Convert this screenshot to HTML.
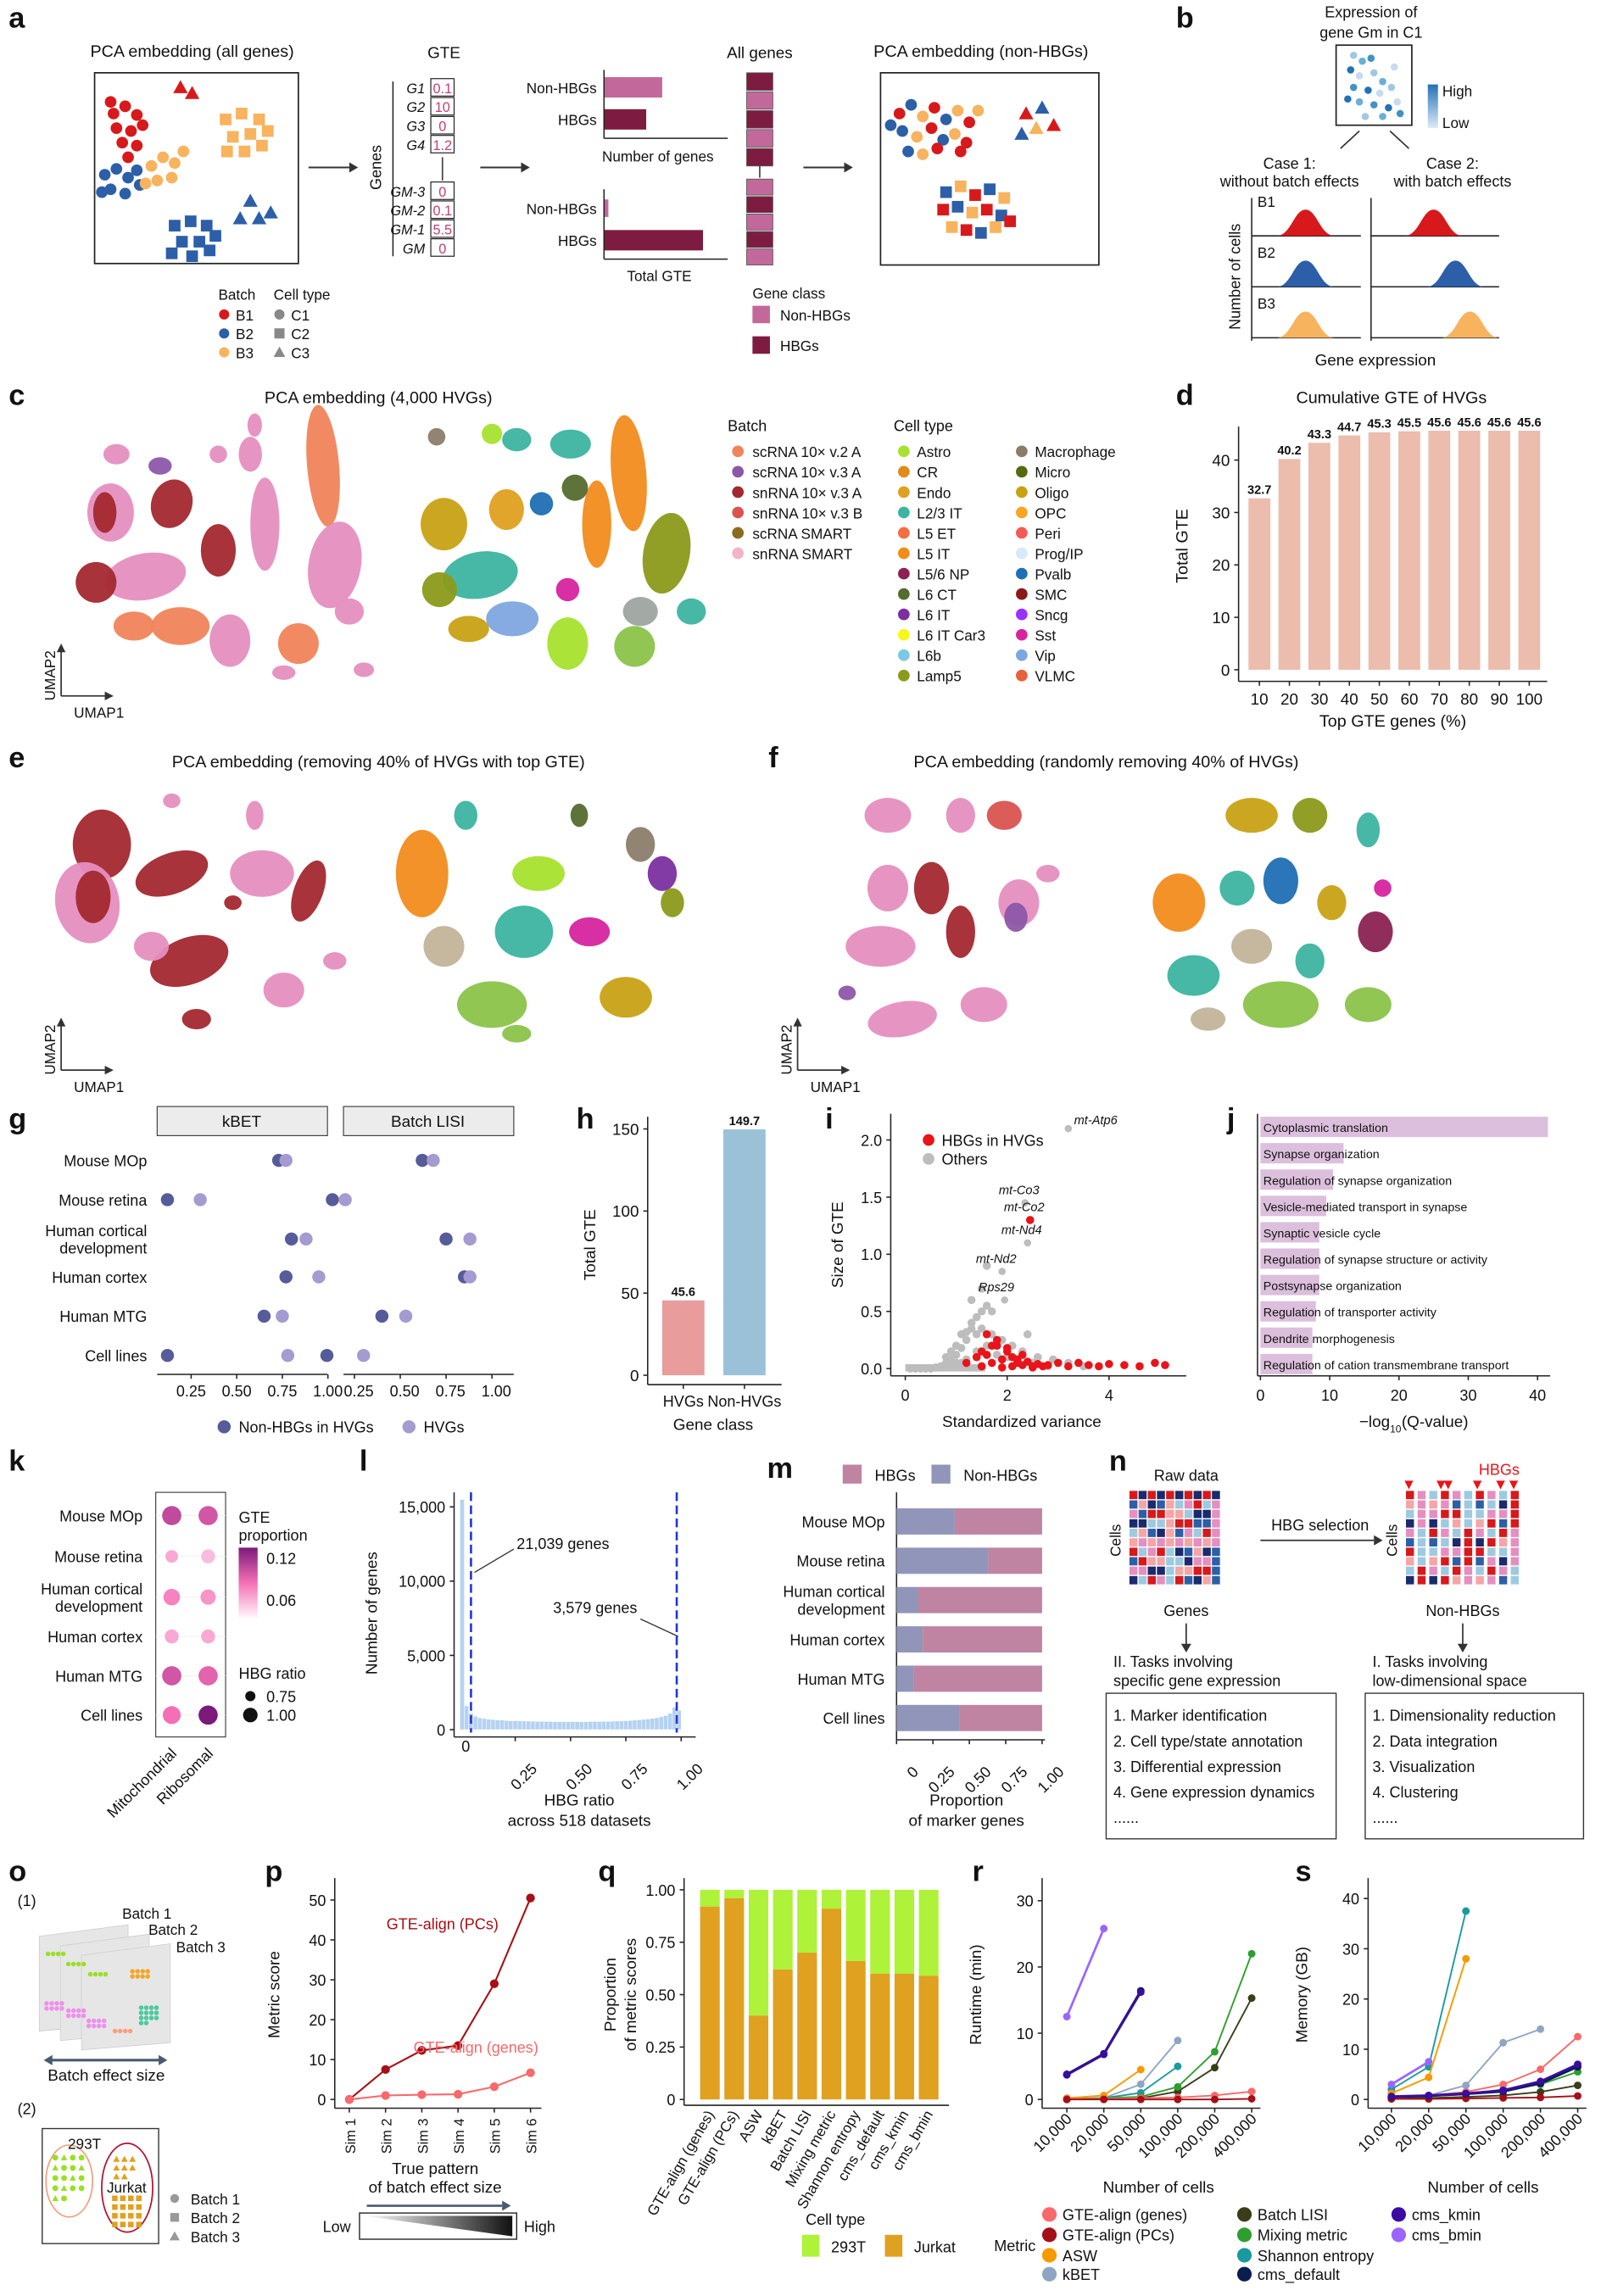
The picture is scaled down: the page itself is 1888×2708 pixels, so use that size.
<!DOCTYPE html>
<html><head><meta charset="utf-8"><style>
html,body{margin:0;padding:0;background:#fff}
svg{display:block;font-family:"Liberation Sans",Arial,sans-serif}
</style></head><body>
<svg id="fig" xmlns="http://www.w3.org/2000/svg" width="1888" height="2708" viewBox="0 0 1100 1577" preserveAspectRatio="none"></svg>
<script>
// ---- chart data ----
const dCats=['10','20','30','40','50','60','70','80','90','100'];
const dVals=[32.7,40.2,43.3,44.7,45.3,45.5,45.6,45.6,45.6,45.6];
const dTicks=[0,10,20,30,40];
const gRows=['Mouse MOp','Mouse retina','Human cortical|development','Human cortex','Human MTG','Cell lines'];
const gKbetNon=[0.73,0.12,0.80,0.77,0.65,0.12];
const gKbetHvg=[0.77,0.30,0.88,0.95,0.75,0.78];
const gLisiNon=[0.62,0.13,0.75,0.85,0.40,0.10];
const gLisiHvg=[0.68,0.20,0.88,0.88,0.53,0.30];
const gTicks=[0.25,0.50,0.75,1.00];
const hCats=['HVGs','Non-HVGs'];
const hVals=[45.6,149.7];
const hTicks=[0,50,100,150];
const iGrayX=[0.1,0.2,0.3,0.4,0.5,0.6,0.7,0.8,0.9,1.0,1.1,1.2,1.3,1.4,1.5,1.6,0.8,0.9,1.0,1.1,1.2,1.3,1.4,1.5,1.7,1.9,2.1,2.3,2.6,2.9,3.2,1.0,1.2,1.4,1.6,1.8,2.0,2.2,2.5,1.3,1.5,1.7,0.9,1.1,1.6,2.8,3.5,2.4];
const iGrayY=[0,0,0,0,0,0.01,0.02,0.05,0.08,0.12,0.18,0.25,0.35,0.45,0.5,0.55,0.1,0.15,0.2,0.3,0.32,0.4,0.3,0.35,0.3,0.25,0.2,0.15,0.1,0.08,0.05,0.05,0.08,0.15,0.2,0.12,0.1,0.06,0.05,0.6,0.7,0.5,0.02,0.05,0.9,0.02,0.02,0.3];
const iRedX=[1.2,1.4,1.5,1.6,1.7,1.8,1.9,2.0,2.1,2.2,2.3,2.4,2.5,2.6,2.8,3.0,3.2,3.4,3.6,3.8,4.0,4.3,4.6,4.9,5.1,1.5,1.7,1.9,2.1,2.3,2.5,2.7,1.6,1.8,2.0,2.2,2.45];
const iRedY=[0.05,0.1,0.15,0.12,0.2,0.25,0.08,0.18,0.1,0.05,0.12,0.06,0.02,0.04,0.03,0.05,0.02,0.05,0.03,0.02,0.04,0.03,0.02,0.05,0.03,0.02,0.05,0.01,0.02,0.03,0.01,0.02,0.3,0.2,0.15,0.08,1.3];
const iLabels=['mt-Atp6','mt-Co3','mt-Co2','mt-Nd4','mt-Nd2','Rps29'];
const iLabX=[3.2,2.35,2.45,2.4,1.9,1.95];
const iLabY=[2.1,1.45,1.3,1.1,0.85,0.6];
const iXTicks=[0,2,4];
const iYTicks=[0,0.5,1.0,1.5,2.0];
const jTerms=['Cytoplasmic translation','Synapse organization','Regulation of synapse organization','Vesicle-mediated transport in synapse','Synaptic vesicle cycle','Regulation of synapse structure or activity','Postsynapse organization','Regulation of transporter activity','Dendrite morphogenesis','Regulation of cation transmembrane transport'];
const jVals=[41.5,12,10.5,9.5,8.5,8.5,8.5,8,7.5,7.5];
const jTicks=[0,10,20,30,40];
const kRows=['Mouse MOp','Mouse retina','Human cortical|development','Human cortex','Human MTG','Cell lines'];
const kMitoProp=[0.10,0.04,0.06,0.04,0.09,0.07];
const kRiboProp=[0.09,0.03,0.05,0.04,0.08,0.14];
const kMitoRatio=[1.0,0.75,0.9,0.8,1.0,0.95];
const kRiboRatio=[1.0,0.8,0.85,0.8,1.0,1.0];
const lCounts=[15500,1600,1100,900,800,750,700,680,650,640,620,600,600,590,580,570,570,560,560,550,550,540,540,540,540,540,540,540,540,550,550,550,560,560,570,580,590,600,620,640,660,690,720,760,800,870,950,1100,1500,1300];
const lYTicks=[0,5000,10000,15000];
const lYLabels=['0','5,000','10,000','15,000'];
const lXTicks=[0.25,0.50,0.75,1.00];
const mRows=['Mouse MOp','Mouse retina','Human cortical|development','Human cortex','Human MTG','Cell lines'];
const mNon=[0.40,0.63,0.15,0.18,0.12,0.43];
const mTicks=[0,0.25,0.50,0.75,1.00];
const pCats=['Sim 1','Sim 2','Sim 3','Sim 4','Sim 5','Sim 6'];
const pPCs=[0,7.5,12.3,13.5,29,50.5];
const pGenes=[0,1,1.2,1.3,3.2,6.7];
const pTicks=[0,10,20,30,40,50];
const qCats=['GTE-align (genes)','GTE-align (PCs)','ASW','kBET','Batch LISI','Mixing metric','Shannon entropy','cms_default','cms_kmin','cms_bmin'];
const qJurkat=[0.92,0.96,0.40,0.62,0.70,0.91,0.66,0.60,0.60,0.59];
const qTicks=[0,0.25,0.50,0.75,1.00];
const cellCats=['10,000','20,000','50,000','100,000','200,000','400,000'];
const metricNames=['GTE-align (genes)','GTE-align (PCs)','ASW','kBET','Batch LISI','Mixing metric','Shannon entropy','cms_default','cms_kmin','cms_bmin'];
const metricColors=['#f8696b','#a50f15','#f59a00','#8ea6c2','#3b3d1a','#2e9e2e','#1a9a9e','#0b1d4d','#3a0ca3','#9966ff'];
const rGenes=[0.1,0.1,0.2,0.3,0.6,1.2];
const rPCs=[0,0,0,0,0,0.1];
const rASW=[0.2,0.6,4.5];
const rKBET=[0.1,0.2,2.3,8.9];
const rLISI=[0,0.1,0.2,1.2,4.8,15.3];
const rMix=[0.1,0.2,0.4,1.9,7.2,22];
const rShan=[0.1,0.2,1.0,5.0];
const rDef=[3.8,6.9,16.4];
const rKmin=[3.7,6.8,16.2];
const rBmin=[12.5,25.8];
const rTicks=[0,10,20,30];
const sGenes=[0.3,0.8,1.5,3,6,12.5];
const sPCs=[0.1,0.1,0.2,0.3,0.4,0.7];
const sASW=[1.2,4.4,28];
const sKBET=[0.5,0.8,2.8,11.3,14];
const sLISI=[0.2,0.3,0.5,0.8,1.5,2.8];
const sMix=[0.5,0.7,1.0,2.0,3.0,5.5];
const sShan=[2,6.5,37.5];
const sDef=[0.5,0.7,1.1,1.6,3.2,6.5];
const sKmin=[0.6,0.8,1.2,1.8,3.6,7.0];
const sBmin=[3,7.5];
const sTicks=[0,10,20,30,40];

const NS='http://www.w3.org/2000/svg';
const svg=document.getElementById('fig');
function el(tag,attrs,name,parent){
  const e=document.createElementNS(NS,tag);
  for(const k in attrs) e.setAttribute(k,attrs[k]);
  
  
  (parent||svg).appendChild(e);
  return e;
}
function T(x,y,s,size,anchor,name,extra){
  const a=Object.assign({x:x,y:y,'font-size':size||10.5,'text-anchor':anchor||'start',fill:'#111'},extra||{});
  const t=el('text',a,name);
  t.textContent=s;
  return t;
}
function L(x1,y1,x2,y2,name,st,w){return el('line',{x1,y1,x2,y2,stroke:st||'#222','stroke-width':w||0.9},name);}
function R(x,y,w,h,f,name,extra){return el('rect',Object.assign({x,y,width:w,height:h,fill:f},extra||{}),name);}
function C(x,y,r,f,name){return el('circle',{cx:x,cy:y,r,fill:f},name);}
function P(d,name,extra){return el('path',Object.assign({d},extra||{}),name);}
function letter(x,y,s){T(x,y,s,20,'start','panel-label-'+s,{'font-weight':'bold'});}
function multiline(x,y,s,size,anchor,name,dy){const parts=s.split('|');const off=parts.length>1?-(dy||12)/2:0;parts.forEach((p,i)=>T(x,y+off+i*(dy||12),p,size,anchor,name));}
function arrowHead(x,y,dir,col,name){
  if(dir==='r') P(`M${x},${y} l-6,-3.5 l0,7 z`,name,{fill:col||'#333'});
  else P(`M${x},${y} l-3.5,-6 l7,0 z`,name,{fill:col||'#333'});
}
function ellipse(cx,cy,rx,ry,rot,f,name,op){return el('ellipse',{cx,cy,rx,ry,fill:f,transform:`rotate(${rot} ${cx} ${cy})`,opacity:op||1},name);}
function tri(x,y,s,f,name){P(`M${x},${y-s} L${x+s},${y+s*0.8} L${x-s},${y+s*0.8} Z`,name,{fill:f});}

// ======== Panel a ========
letter(6,19,'a');
T(132,39,'PCA embedding (all genes)',11.5,'middle','pca-all-title');
R(65,50,140,131,'none','pca-all-box',{stroke:'#222','stroke-width':1});
const red='#d7191c',blue='#2c5fa8',org='#f7b35e';
[[78,78],[86,73],[94,79],[80,88],[90,90],[98,86],[84,98],[94,100],[76,70],[88,108]].forEach(p=>C(p[0],p[1],4,red,'pca-point-b1-c1'));
[[72,120],[80,116],[88,122],[76,130],[86,133],[94,117],[70,132],[96,127]].forEach(p=>C(p[0],p[1],4,blue,'pca-point-b2-c1'));
[[104,114],[112,108],[120,112],[108,124],[118,122],[126,104],[100,126]].forEach(p=>C(p[0],p[1],4,org,'pca-point-b3-c1'));
[[155,82],[166,78],[178,82],[160,94],[172,92],[184,90],[156,104],[168,104],[180,100]].forEach(p=>R(p[0]-4,p[1]-4,8,8,org,'pca-point-b3-c2'));
[[120,155],[131,152],[142,155],[125,166],[137,166],[148,162],[118,174],[132,176],[144,172]].forEach(p=>R(p[0]-4,p[1]-4,8,8,blue,'pca-point-b2-c2'));
[[172,138],[165,150],[178,150],[186,146]].forEach(p=>tri(p[0],p[1],5,blue,'pca-point-b2-c3'));
[[124,60],[132,64]].forEach(p=>tri(p[0],p[1],5,red,'pca-point-b1-c3'));
T(150,206,'Batch',10,'start','batch-legend-title');T(188,206,'Cell type',10,'start','celltype-legend-title');
[['B1',red],['B2',blue],['B3',org]].forEach((b,i)=>{C(154,216+i*13,3.5,b[1],'legend-dot-'+b[0]);T(162,220+i*13,b[0],10,'start','legend-text-'+b[0]);});
C(192,216,3.5,'#888','legend-c1');R(188.5,225.5,7,7,'#888','legend-c2');tri(192,242,4,'#888','legend-c3');
['C1','C2','C3'].forEach((c,i)=>T(200,220+i*13,c,10,'start','legend-text-'+c));
L(212,115,240,115,'arrow-a1','#333',1.2);arrowHead(246,115,'r','#333','arrow-a1-head');
T(305,40,'GTE',11,'middle','gte-title');
T(262,115,'Genes',10.5,'middle','genes-axis-label',{transform:'rotate(-90 262 115)'});
L(270,56,270,176,'genes-bracket');
const gNames=['G1','G2','G3','G4','GM-3','GM-2','GM-1','GM'];
const gV=['0.1','10','0','1.2','0','0.1','5.5','0'];
const gY=[60,73,86,99,131,144,157,170];
gNames.forEach((g,i)=>{T(292,gY[i]+4,g,9.5,'end','gene-name-'+g,{'font-style':'italic'});R(296,gY[i]-6,16,12,'#fff','gte-cell-'+g,{stroke:'#222','stroke-width':0.7});T(304,gY[i]+4,gV[i],9.5,'middle','gte-value-'+g,{fill:'#c2407a'});});
L(304,108,304,124,'gene-ellipsis','#444',1);
L(330,115,358,115,'arrow-a2','#333',1.2);arrowHead(364,115,'r','#333','arrow-a2-head');
const nh='#c3689b',hb='#7d1c40';
T(410,64,'Non-HBGs',10,'end','nonhbg-label-1');R(415,53,40,14,nh,'bar-nonhbg-count');
T(410,86,'HBGs',10,'end','hbg-label-1');R(415,75,29,14,hb,'bar-hbg-count');
L(415,48,415,95,'count-y-axis');L(415,95,500,95,'count-x-axis');T(452,111,'Number of genes',10,'middle','count-x-title');
T(410,147,'Non-HBGs',10,'end','nonhbg-label-2');R(415,137,3,12,nh,'bar-nonhbg-gte');
T(410,169,'HBGs',10,'end','hbg-label-2');R(415,158,68,14,hb,'bar-hbg-gte');
L(415,130,415,178,'gte-y-axis');L(415,178,500,178,'gte-x-axis');T(453,193,'Total GTE',10,'middle','gte-x-title');
T(522,40,'All genes',11,'middle','allgenes-title');
const agC=[hb,nh,hb,nh,hb,nh,hb,nh,hb,nh];
agC.forEach((c,i)=>{const y=i<5?50+i*13:123+(i-5)*12;R(513,y,18,i<5?12:11,c,'all-genes-cell',{stroke:'#555','stroke-width':0.5});});
L(522,114,522,122,'allgenes-ellipsis','#444',1);
T(517,205,'Gene class',10,'start','geneclass-legend-title');
R(517,210,12,12,nh,'legend-nonhbg-box');T(536,220,'Non-HBGs',10,'start','legend-nonhbg-text');
R(517,231,12,12,hb,'legend-hbg-box');T(536,241,'HBGs',10,'start','legend-hbg-text');
L(552,115,580,115,'arrow-a3','#333',1.2);arrowHead(586,115,'r','#333','arrow-a3-head');
T(674,39,'PCA embedding (non-HBGs)',11.5,'middle','pca-nonhbg-title');
R(605,50,150,132,'none','pca-nonhbg-box',{stroke:'#222','stroke-width':1});
const mix=[red,blue,org];
[[618,78],[626,72],[634,80],[642,74],[650,82],[658,76],[666,84],[620,90],[630,94],[640,88],[648,96],[656,92],[664,98],[624,104],[634,106],[644,102],[612,86],[672,76],[660,104]].forEach((p,i)=>C(p[0],p[1],4,mix[i%3],'pca2-point-c1'));
[[650,132],[660,128],[670,134],[680,130],[690,136],[648,144],[658,142],[668,146],[678,144],[688,148],[654,156],[664,158],[674,160],[684,156],[694,152]].forEach((p,i)=>R(p[0]-4,p[1]-4,8,8,mix[(i+1)%3],'pca2-point-c2'));
[[705,78],[716,74],[712,88],[724,86],[702,92]].forEach((p,i)=>tri(p[0],p[1],5,mix[i%3],'pca2-point-c3'));

// ======== Panel b ========
letter(808,19,'b');
T(942,12,'Expression of',10.5,'middle','expr-title-1');
T(942,26,'gene Gm in C1',10.5,'middle','expr-title-2');
R(918,31,52,55,'#fff','expr-box',{stroke:'#222','stroke-width':1});
const bl=['#9ecae1','#6baed6','#4292c6','#2171b5','#c6dbef'];
[[930,38],[936,42],[942,40],[928,48],[934,52],[944,50],[950,56],[930,60],[940,62],[948,64],[956,60],[934,70],[944,72],[954,74],[960,70],[938,80],[950,80],[962,78],[926,68],[958,46]].forEach((p,i)=>C(p[0],p[1],2.5,bl[i%5],'expr-dot'));
const gd=el('defs',{}, 'defs');
const lg=el('linearGradient',{id:'blueGrad',x1:0,y1:0,x2:0,y2:1},'blue-gradient',gd);
el('stop',{offset:'0','stop-color':'#2171b5'},'stop',lg);el('stop',{offset:'1','stop-color':'#deebf7'},'stop',lg);
R(981,58,7,30,'url(#blueGrad)','expr-legend-bar');
T(991,66,'High',10,'start','expr-high');T(991,88,'Low',10,'start','expr-low');
L(934,90,921,102,'arrow-b1','#333',1);L(955,90,968,102,'arrow-b2','#333',1);
T(886,116,'Case 1:',10.5,'middle','case1');T(886,128,'without batch effects',10.5,'middle','case1-sub');
T(998,116,'Case 2:',10.5,'middle','case2');T(998,128,'with batch effects',10.5,'middle','case2-sub');
T(852,190,'Number of cells',10.5,'middle','b-yaxis-title',{transform:'rotate(-90 852 190)'});
L(860,136,860,234,'b-yaxis-1');L(942,136,942,234,'b-yaxis-2');
const bcol=['#d7191c','#2c5fa8','#f7b35e'];
['B1','B2','B3'].forEach((b,i)=>{
  const base=162+i*35;
  T(864,base-20,b,10,'start','batch-label-'+b);
  L(860,base,935,base,'b-base-1');L(942,base,1030,base,'b-base-2');
  const c1=897, c2=[985,1000,1010][i];
  P(`M${c1-20},${base} C${c1-10},${base} ${c1-8},${base-18} ${c1},${base-18} C${c1+8},${base-18} ${c1+10},${base} ${c1+20},${base} Z`,'density-case1-'+b,{fill:bcol[i]});
  P(`M${c2-20},${base} C${c2-10},${base} ${c2-8},${base-18} ${c2},${base-18} C${c2+8},${base-18} ${c2+10},${base} ${c2+20},${base} Z`,'density-case2-'+b,{fill:bcol[i]});
});
T(945,251,'Gene expression',11,'middle','b-xaxis-title');

// ======== UMAP helper ========
function umap(blobs,name){blobs.forEach(b=>ellipse(b[0],b[1],b[2],b[3],b[4],b[5],name+'-cluster',0.95));}
function umapAxes(x,y,name){L(x,y,x,y-32,name+'-umap2-axis','#333',1);L(x,y,x+32,y,name+'-umap1-axis','#333',1);
  P(`M${x},${y-36} l-3,6 l6,0 z`,name+'-umap2-head',{fill:'#333'});P(`M${x+36},${y} l-6,-3 l0,6 z`,name+'-umap1-head',{fill:'#333'});
  T(x-4,y-14,'UMAP2',10,'middle',name+'-umap2-label',{transform:`rotate(-90 ${x-4} ${y-14})`});T(x+26,y+15,'UMAP1',10,'middle',name+'-umap1-label');}
const PK='#e58fc0',OR='#f0845a',DR='#a3282f',PU='#8c57a8',LP='#f3b3c9',OL='#8c6d1f';
// ======== Panel c ========
letter(6,278,'c');
T(260,277,'PCA embedding (4,000 HVGs)',11.5,'middle','c-title');
umap([[222,320,11,42,-5,OR],[230,388,18,30,10,PK],[182,360,10,32,0,PK],[172,312,8,12,0,PK],[76,352,16,20,0,PK],[72,352,8,14,0,DR],[118,346,14,17,20,DR],[150,378,12,18,0,DR],[100,396,28,16,-10,PK],[66,400,14,14,0,DR],[124,430,20,13,0,OR],[92,430,14,10,0,OR],[158,440,14,18,0,PK],[205,442,14,14,0,OR],[240,420,10,9,0,PK],[80,312,9,7,0,PK],[150,312,6,6,0,PK],[110,320,8,6,0,PU],[195,462,8,5,0,PK],[250,460,7,5,0,PK],[175,292,5,8,0,PK]],'c-batch');
umapAxes(42,478,'c');
umap([[300,300,6,6,0,'#8b7d6b'],[338,298,7,7,0,'#a6e22e'],[355,302,10,8,0,'#3cb4a0'],[392,305,14,10,0,'#3cb4a0'],[432,325,12,40,-5,'#f28c1c'],[458,380,16,28,10,'#8b9a1b'],[440,420,12,10,0,'#9ea5a0'],[410,360,10,30,0,'#f28c1c'],[395,335,9,9,0,'#556b2f'],[372,346,8,8,0,'#1f6fb4'],[305,360,16,18,0,'#c8a215'],[348,350,12,14,0,'#e0a020'],[330,395,26,16,-10,'#3cb4a0'],[302,405,12,12,0,'#8b9a1b'],[352,425,18,12,0,'#7ea6e0'],[322,432,14,9,0,'#c8a215'],[390,442,14,18,0,'#a6e22e'],[436,444,14,14,0,'#8bc34a'],[475,420,10,9,0,'#3cb4a0'],[390,405,8,8,0,'#d6249f']],'c-celltype');
T(500,296,'Batch',10.5,'start','c-batch-legend-title');
const cBatch=[['scRNA 10× v.2 A',OR],['scRNA 10× v.3 A',PU],['snRNA 10× v.3 A',DR],['snRNA 10× v.3 B','#d9534f'],['scRNA SMART',OL],['snRNA SMART',LP]];
cBatch.forEach((b,i)=>{C(507,310+i*14,4,b[1],'c-batch-legend-dot');T(517,314+i*14,b[0],10,'start','c-batch-legend-text');});
T(614,296,'Cell type',10.5,'start','c-celltype-legend-title');
const ct1=[['Astro','#a6e22e'],['CR','#e08b1a'],['Endo','#e0a020'],['L2/3 IT','#3cb4a0'],['L5 ET','#f46d43'],['L5 IT','#f28c1c'],['L5/6 NP','#8b2252'],['L6 CT','#556b2f'],['L6 IT','#7b2fa0'],['L6 IT Car3','#f7f71a'],['L6b','#7ec8e3'],['Lamp5','#8b9a1b']];
const ct2=[['Macrophage','#8b7d6b'],['Micro','#556b0f'],['Oligo','#c8a215'],['OPC','#f5a623'],['Peri','#f25c54'],['Prog/IP','#d6eaf8'],['Pvalb','#1f6fb4'],['SMC','#8b1a1a'],['Sncg','#9b30ff'],['Sst','#d6249f'],['Vip','#7ea6e0'],['VLMC','#e8603c']];
ct1.forEach((b,i)=>{C(621,310+i*14,4,b[1],'c-celltype-legend-dot');T(630,314+i*14,b[0],10,'start','c-celltype-legend-text');});
ct2.forEach((b,i)=>{C(702,310+i*14,4,b[1],'c-celltype-legend-dot');T(711,314+i*14,b[0],10,'start','c-celltype-legend-text');});

// ======== Panel d ========
letter(808,278,'d');
T(956,277,'Cumulative GTE of HVGs',11.5,'middle','d-title');
const dX0=851,dX1=1063,dY0=460,dPer=3.6;
function dy(v){return dY0-v*dPer;}
L(dX0,293,dX0,468,'d-y-axis');L(dX0,468,dX1,468,'d-x-axis');
dTicks.forEach(t=>{L(dX0-3,dy(t),dX0,dy(t),'d-y-tick');T(dX0-6,dy(t)+4,String(t),11,'end','d-y-tick-label');});
const dStep=(dX1-dX0-6)/dCats.length;
dCats.forEach((c,i)=>{const cx=dX0+4+dStep*(i+0.5);R(cx-7.5,dy(dVals[i]),15,dy(0)-dy(dVals[i]),'#ecbcad','d-bar-'+c);
  T(cx,dy(dVals[i])-3,dVals[i].toFixed(1),8.5,'middle','d-bar-value',{'font-weight':'bold'});
  L(cx,468,cx,471,'d-x-tick');T(cx,484,c,11,'middle','d-x-tick-label');});
T(957,499,'Top GTE genes (%)',11.5,'middle','d-x-title');
T(816,375,'Total GTE',11.5,'middle','d-y-title',{transform:'rotate(-90 816 375)'});

// ======== Panel e & f ========
letter(6,527,'e');
T(260,527,'PCA embedding (removing 40% of HVGs with top GTE)',11.5,'middle','e-title');
umap([[70,580,20,24,0,DR],[60,620,22,28,-10,PK],[64,616,12,18,0,DR],[118,600,26,14,-20,DR],[175,560,6,10,0,PK],[180,600,22,16,0,PK],[130,660,28,16,-20,DR],[104,650,12,10,0,PK],[212,612,10,22,20,DR],[195,680,14,12,0,PK],[135,700,10,7,0,DR],[230,660,8,6,0,PK],[118,550,6,5,0,PK],[160,620,6,5,0,DR]],'e-batch');
umapAxes(42,735,'e');
umap([[290,600,18,30,0,'#f28c1c'],[305,650,14,14,0,'#c2b49a'],[338,690,24,16,0,'#8bc34a'],[360,640,20,18,0,'#3cb4a0'],[370,600,18,12,0,'#a6e22e'],[405,640,14,10,0,'#d6249f'],[440,580,10,12,0,'#8b7d6b'],[455,600,10,12,0,'#7b2fa0'],[462,620,8,10,0,'#8b9a1b'],[430,685,18,14,0,'#c8a215'],[398,560,6,8,0,'#556b2f'],[355,710,10,6,0,'#8bc34a'],[320,560,8,10,0,'#3cb4a0']],'e-celltype');
letter(528,527,'f');
T(760,527,'PCA embedding (randomly removing 40% of HVGs)',11.5,'middle','f-title');
umap([[610,560,16,12,0,PK],[660,560,10,12,0,PK],[690,560,12,10,0,'#d9534f'],[610,610,14,16,0,PK],[640,610,12,18,0,DR],[605,650,24,14,0,PK],[660,640,10,18,0,DR],[700,620,14,16,0,PK],[698,630,8,10,0,PU],[620,700,24,12,-10,PK],[676,690,16,12,0,PK],[720,600,8,6,0,PK],[582,682,6,5,0,PU]],'f-batch');
umapAxes(548,735,'f');
umap([[860,560,18,12,0,'#c8a215'],[900,560,12,12,0,'#8b9a1b'],[940,570,8,12,0,'#3cb4a0'],[810,620,18,20,0,'#f28c1c'],[850,610,12,12,0,'#3cb4a0'],[880,605,12,16,0,'#1f6fb4'],[915,620,10,12,0,'#c8a215'],[860,650,14,12,0,'#c2b49a'],[900,660,10,12,0,'#3cb4a0'],[945,640,12,14,0,'#8b2252'],[820,670,18,14,0,'#3cb4a0'],[880,690,26,16,0,'#8bc34a'],[940,690,16,12,0,'#8bc34a'],[830,700,12,8,0,'#c2b49a'],[950,610,6,6,0,'#d6249f']],'f-celltype');

// ======== Panel g ========
letter(6,775,'g');
R(108,760,117,20,'#ececec','g-strip-kbet',{stroke:'#444','stroke-width':0.7});T(166,774,'kBET',11,'middle','g-strip-kbet-label');
R(236,760,117,20,'#ececec','g-strip-lisi',{stroke:'#444','stroke-width':0.7});T(294,774,'Batch LISI',11,'middle','g-strip-lisi-label');
const gRowY=[797,824,851,877,904,931];
function gxK(v){return 100+v*125.3;} function gxL(v){return 212+v*126;}
gRows.forEach((r,i)=>{multiline(101,gRowY[i]+4,r,10.5,'end','g-row-label',12);
  C(gxK(gKbetNon[i]),gRowY[i],4.5,'#565b99','g-dot-kbet-nonhbg');C(gxK(gKbetHvg[i]),gRowY[i],4.5,'#a59bd0','g-dot-kbet-hvg');
  C(gxL(gLisiNon[i]),gRowY[i],4.5,'#565b99','g-dot-lisi-nonhbg');C(gxL(gLisiHvg[i]),gRowY[i],4.5,'#a59bd0','g-dot-lisi-hvg');});
L(108,944,225,944,'g-x-axis-kbet');L(236,944,353,944,'g-x-axis-lisi');
gTicks.forEach(t=>{L(gxK(t),944,gxK(t),947,'g-tick');T(gxK(t),959,t.toFixed(2),10.5,'middle','g-tick-label');L(gxL(t),944,gxL(t),947,'g-tick');T(gxL(t)+3,959,t.toFixed(2),10.5,'middle','g-tick-label');});
C(154,980,4.5,'#565b99','g-legend-nonhbg');T(164,984,'Non-HBGs in HVGs',10.5,'start','g-legend-nonhbg-text');
C(281,980,4.5,'#a59bd0','g-legend-hvg');T(291,984,'HVGs',10.5,'start','g-legend-hvg-text');

// ======== Panel h ========
letter(396,775,'h');
function hy(v){return 944.6-v*1.128;}
L(445,767,445,951,'h-y-axis');L(445,951,537,951,'h-x-axis');
hTicks.forEach(t=>{L(442,hy(t),445,hy(t),'h-tick');T(439,hy(t)+4,String(t),11,'end','h-tick-label');});
const hCol=['#e89c9c','#9bc1d8'],hX=[455,497];
hCats.forEach((c,i)=>{R(hX[i],hy(hVals[i]),29,hy(0)-hy(hVals[i]),hCol[i],'h-bar-'+c);T(hX[i]+14.5,hy(hVals[i])-3,String(hVals[i]),8.5,'middle','h-bar-value',{'font-weight':'bold'});L(hX[i]+14.5,951,hX[i]+14.5,954,'h-x-tick');T(hX[i]+14.5,966,c,10.5,'middle','h-x-label');});
T(490,982,'Gene class',11,'middle','h-x-title');
T(409,855,'Total GTE',11,'middle','h-y-title',{transform:'rotate(-90 409 855)'});

// ======== Panel i ========
letter(567,775,'i');
function ix(v){return 622+v*35;} function iy(v){return 940-v*78.5;}
L(612,765,612,945,'i-y-axis');L(612,945,815,945,'i-x-axis');
iYTicks.forEach(t=>{L(609,iy(t),612,iy(t),'i-tick');T(606,iy(t)+4,t.toFixed(1),10.5,'end','i-tick-label');});
iXTicks.forEach(t=>{L(ix(t),945,ix(t),948,'i-tick');T(ix(t),962,String(t),10.5,'middle','i-tick-label');});
R(622,937,55,5,'#bdbdbd','i-gray-dense');
iGrayX.forEach((x,k)=>C(ix(x),iy(iGrayY[k]),2.8,'#bdbdbd','i-point-other'));
iRedX.forEach((x,k)=>C(ix(x),iy(iRedY[k]),2.8,'#e8141a','i-point-hbg'));
iLabels.forEach((s,k)=>{C(ix(iLabX[k]),iy(iLabY[k]),2.5,k===2?'#e8141a':'#bdbdbd','i-point-labeled');T(ix(iLabX[k])+(k===0?4:-18),iy(iLabY[k])-(k===0?3:6),s,8.5,'start','i-gene-label',{'font-style':'italic'});});
C(638,783,4,'#e8141a','i-legend-red');T(647,787,'HBGs in HVGs',10.5,'start','i-legend-red-text');
C(638,796,4,'#bdbdbd','i-legend-gray');T(647,800,'Others',10.5,'start','i-legend-gray-text');
T(702,980,'Standardized variance',11,'middle','i-x-title');
T(579,855,'Size of GTE',11,'middle','i-y-title',{transform:'rotate(-90 579 855)'});

// ======== Panel j ========
letter(843,775,'j');
function jx(v){return 866+v*4.76;}
L(864,765,864,945,'j-y-axis');L(864,945,1065,945,'j-x-axis');
jTerms.forEach((t,k)=>{const y=767+k*18.1;R(866,y,jx(jVals[k])-866,14,'#dcbfdc','j-bar');T(868,y+10.5,t,8.3,'start','j-term-label');});
jTicks.forEach(t=>{L(jx(t),945,jx(t),948,'j-tick');T(jx(t),962,String(t),10.5,'middle','j-tick-label');});
T(955,980,'−log',11,'end','j-x-title');T(955,984,'10',7,'start','j-x-title-sub');T(963,980,'(Q-value)',11,'start','j-x-title-2');

// ======== Panel k ========
letter(6,1010,'k');
R(107,1025,48,168,'none','k-box',{stroke:'#444','stroke-width':0.7});
const kY=[1041,1069,1097,1124,1151,1178];
function kRatioR(r){return (r-0.6)*9;}
function kColor(p){const t=Math.min(1,p/0.14);const a=[255,245,250],b=[244,111,181],c=[123,26,123];let r;
  if(t<0.5){const u=t/0.5;r=a.map((v,i)=>v+(b[i]-v)*u);}else{const u=(t-0.5)/0.5;r=b.map((v,i)=>v+(c[i]-v)*u);}return `rgb(${r.map(Math.round).join(',')})`;}
kRows.forEach((r,i)=>{multiline(98,kY[i]+4,r,10.5,'end','k-row-label',12);
  L(107,kY[i],155,kY[i],'k-grid','#eee',0.5);
  C(118,kY[i],3+kRatioR(kMitoRatio[i]),kColor(kMitoProp[i]),'k-dot-mito');C(143,kY[i],3+kRatioR(kRiboRatio[i]),kColor(kRiboProp[i]),'k-dot-ribo');});
T(122,1205,'Mitochondrial',10.5,'end','k-x-label',{transform:'rotate(-45 122 1205)'});
T(147,1205,'Ribosomal',10.5,'end','k-x-label',{transform:'rotate(-45 147 1205)'});
T(164,1046,'GTE',10.5,'start','k-legend-title');T(164,1058,'proportion',10.5,'start','k-legend-title-2');
const lg2=el('linearGradient',{id:'pinkGrad',x1:0,y1:0,x2:0,y2:1},'pink-gradient',gd);
el('stop',{offset:'0','stop-color':'#7b1a7b'},'stop',lg2);el('stop',{offset:'0.5','stop-color':'#f46fb5'},'stop',lg2);el('stop',{offset:'1','stop-color':'#fff5fa'},'stop',lg2);
R(164,1063,13,48,'url(#pinkGrad)','k-color-bar');
T(183,1074,'0.12',10.5,'start','k-legend-012');T(183,1103,'0.06',10.5,'start','k-legend-006');
T(164,1153,'HBG ratio',10.5,'start','k-size-legend-title');
C(172,1165,3.5,'#111','k-size-075');T(183,1169,'0.75',10.5,'start','k-size-075-text');
C(172,1178,5,'#111','k-size-100');T(183,1182,'1.00',10.5,'start','k-size-100-text');

// ======== Panel l ========
letter(247,1010,'l');
function ly(v){return 1188-v*0.0102;} function lx(v){return 316+v*152;}
L(312,1025,312,1193,'l-y-axis');L(312,1193,478,1193,'l-x-axis');
lYTicks.forEach((t,k)=>{L(309,ly(t),312,ly(t),'l-tick');T(306,ly(t)+4,lYLabels[k],10.5,'end','l-tick-label');});
lCounts.forEach((c,k)=>R(lx(k*0.02),ly(c),3.04,ly(0)-ly(c),'#b5d2f0','l-hist-bar',{stroke:'#fff','stroke-width':0.3}));
L(lx(0.05),1025,lx(0.05),1190,'l-threshold-low','#2035d0',1.5).setAttribute('stroke-dasharray','6 3');
L(lx(0.98),1025,lx(0.98),1190,'l-threshold-high','#2035d0',1.5).setAttribute('stroke-dasharray','6 3');
T(355,1064,'21,039 genes',10.5,'start','l-annot-low');L(353,1064,326,1080,'l-annot-low-line','#333',0.8);
T(380,1108,'3,579 genes',10.5,'start','l-annot-high');L(440,1112,466,1124,'l-annot-high-line','#333',0.8);
T(320,1203,'0',10.5,'middle','l-x-zero');
lXTicks.forEach(t=>{L(lx(t),1193,lx(t),1196,'l-tick');T(lx(t)+5,1220,t.toFixed(2),10.5,'end','l-x-tick-label',{transform:`rotate(-45 ${lx(t)+5} 1205)`});});
T(398,1240,'HBG ratio',11,'middle','l-x-title');T(398,1254,'across 518 datasets',11,'middle','l-x-title-2');
T(259,1108,'Number of genes',11,'middle','l-y-title',{transform:'rotate(-90 259 1108)'});

// ======== Panel m ========
letter(527,1015,'m');
R(579,1006,13,13,'#bf84a1','m-legend-hbg');T(601,1017,'HBGs',10.5,'start','m-legend-hbg-text');
R(640,1006,13,13,'#9195b9','m-legend-nonhbg');T(662,1017,'Non-HBGs',10.5,'start','m-legend-nonhbg-text');
const mY=[1045,1072,1099,1126,1153,1180];
function mx(v){return 616+v*100;}
L(616,1025,616,1195,'m-y-axis');L(616,1195,718,1195,'m-x-axis');
mRows.forEach((r,i)=>{multiline(608,mY[i]+4,r,10.5,'end','m-row-label',12);
  R(mx(0),mY[i]-9,mx(mNon[i])-mx(0),18,'#9195b9','m-bar-nonhbg');R(mx(mNon[i]),mY[i]-9,mx(1)-mx(mNon[i]),18,'#bf84a1','m-bar-hbg');});
mTicks.forEach(t=>{L(mx(t),1195,mx(t),1198,'m-tick');T(mx(t)+5,1222,t===0?'0':t.toFixed(2),10.5,'end','m-tick-label',{transform:`rotate(-45 ${mx(t)+5} 1207)`});});
T(664,1240,'Proportion',11,'middle','m-x-title');T(664,1254,'of marker genes',11,'middle','m-x-title-2');

// ======== Panel n ========
letter(762,1010,'n');
T(815,1017,'Raw data',10.5,'middle','n-raw-title');
const mosaic=['#d7191c','#2c5fa8','#e58fc0','#1a2a6c','#9ecae1','#f4a6a6'];
for(let r=0;r<10;r++)for(let c=0;c<10;c++){R(776+c*6.3,1024+r*6.5,5.5,5.7,mosaic[(r*7+c*3+(r*c)%5)%6],'n-raw-cell');}
T(770,1058,'Cells',10,'middle','n-cells-label',{transform:'rotate(-90 770 1058)'});
T(815,1110,'Genes',10.5,'middle','n-genes-label');
L(866,1058,944,1058,'n-arrow','#333',1);arrowHead(950,1058,'r','#333','n-arrow-head');
T(907,1051,'HBG selection',10.5,'middle','n-arrow-label');
for(let r=0;r<10;r++)for(let c=0;c<10;c++){R(966+c*8,1024+r*6.5,5.5,5.7,mosaic[(r*5+c*2+(r*c)%4)%6],'n-sel-cell');}
T(1030,1013,'HBGs',10.5,'middle','n-hbgs-label',{fill:'#e8141a'});
[968,990,995,1015,1031,1040].forEach(x=>P(`M${x-3},1017 l6,0 l-3,6 z`,'n-hbg-marker',{fill:'#e8141a'}));
T(960,1058,'Cells',10,'middle','n-cells-label-2',{transform:'rotate(-90 960 1058)'});
T(1005,1110,'Non-HBGs',10.5,'middle','n-nonhbgs-label');
L(815,1115,815,1130,'n-down-1','#333',1);arrowHead(815,1135,'d','#333','n-down-1-head');
L(1005,1115,1005,1130,'n-down-2','#333',1);arrowHead(1005,1135,'d','#333','n-down-2-head');
T(765,1145,'II. Tasks involving',10.5,'start','n-task2-title');T(765,1158,'specific gene expression',10.5,'start','n-task2-title-2');
R(760,1163,158,100,'none','n-task2-box',{stroke:'#333','stroke-width':0.8});
['1. Marker identification','2. Cell type/state annotation','3. Differential expression','4. Gene expression dynamics','......'].forEach((s,k)=>T(765,1182+k*17.5,s,10.5,'start','n-task2-item'));
T(943,1145,'I. Tasks involving',10.5,'start','n-task1-title');T(943,1158,'low-dimensional space',10.5,'start','n-task1-title-2');
R(938,1163,150,100,'none','n-task1-box',{stroke:'#333','stroke-width':0.8});
['1. Dimensionality reduction','2. Data integration','3. Visualization','4. Clustering','......'].forEach((s,k)=>T(943,1182+k*17.5,s,10.5,'start','n-task1-item'));

// ======== Panel o ========
letter(6,1292,'o');
T(12,1309,'(1)',10.5,'start','o-1');
[[27,1330],[41.5,1336.5],[56,1343]].forEach((p,k)=>P(`M${p[0]},${p[1]} L${p[0]+61},${p[1]-8} L${p[0]+61},${p[1]+60} L${p[0]},${p[1]+65} Z`,'o-batch-sheet',{fill:'#e6e6e6',stroke:'#d0d0d0','stroke-width':0.5}));
T(84,1318,'Batch 1',10,'start','o-batch1');T(102,1329,'Batch 2',10,'start','o-batch2');T(121,1341,'Batch 3',10,'start','o-batch3');
function clusterDots(cx,cy,n,col,name){for(let k=0;k<n;k++){C(cx+(k%4)*3.5-5,cy+Math.floor(k/4)*3.5-4,1.6,col,name);}}
clusterDots(38,1346,4,'#98e024','o-cell');clusterDots(52,1353,4,'#98e024','o-cell');clusterDots(67,1360,4,'#98e024','o-cell');
clusterDots(37,1380,8,'#ee90ee','o-cell');clusterDots(52,1385,8,'#ee90ee','o-cell');clusterDots(66,1392,8,'#ee90ee','o-cell');
clusterDots(96,1358,8,'#f5a623','o-cell');clusterDots(102,1383,14,'#4cc9a0','o-cell');clusterDots(84,1399,4,'#f8a07a','o-cell');
L(35,1415,110,1415,'o-size-arrow','#4a5a70',1.8);P('M30,1415 l6,-3.5 l0,7 z','o-arrow-left',{fill:'#4a5a70'});P('M115,1415 l-6,-3.5 l0,7 z','o-arrow-right',{fill:'#4a5a70'});
T(73,1429,'Batch effect size',11,'middle','o-size-label');
T(12,1452,'(2)',10.5,'start','o-2');
R(29,1462,80,79,'none','o-box2',{stroke:'#333','stroke-width':0.8});
const e1=ellipse(47.6,1498,16,24.7,0,'none','o-293t-ellipse');e1.setAttribute('stroke','#f0a080');
const e2=ellipse(87.4,1502.6,17.5,30.5,0,'none','o-jurkat-ellipse');e2.setAttribute('stroke','#b01030');
for(let k=0;k<18;k++){const x=38+(k%4)*6,y=1482+Math.floor(k/4)*7;if(k%3===1)tri(x,y,2.2,'#98e024','o-293t-cell');else C(x,y,2,'#98e024','o-293t-cell');}
for(let k=0;k<8;k++)tri(80+(k%3)*5.5,1483+Math.floor(k/3)*6,2.3,'#e0a020','o-jurkat-cell-b3');
for(let k=0;k<16;k++)R(77+(k%4)*5.5,1508+Math.floor(k/4)*6,3.8,3.8,'#e0a020','o-jurkat-cell-b2');
T(58,1476,'293T',10,'middle','o-293t');
T(87,1506,'Jurkat',10,'middle','o-jurkat');
C(120,1510,3,'#999','o-leg-b1');T(131,1514,'Batch 1',10,'start','o-leg-b1-text');
R(117,1520,6,6,'#999','o-leg-b2');T(131,1527,'Batch 2',10,'start','o-leg-b2-text');
tri(120,1536,3.5,'#999','o-leg-b3');T(131,1540,'Batch 3',10,'start','o-leg-b3-text');

// ======== Panel p ========
letter(182,1292,'p');
function py(v){return 1442-v*2.74;} function px(i){return 240+i*24.9;}
L(230,1290,230,1448,'p-y-axis');L(230,1448,372,1448,'p-x-axis');
pTicks.forEach(t=>{L(227,py(t),230,py(t),'p-tick');T(224,py(t)+4,String(t),10.5,'end','p-tick-label');});
pCats.forEach((c,i)=>{L(px(i),1448,px(i),1451,'p-tick');T(px(i)+4,1455,c,9.5,'end','p-x-label',{transform:`rotate(-90 ${px(i)+4} 1455)`});});
el('polyline',{points:pPCs.map((v,i)=>px(i)+','+py(v)).join(' '),fill:'none',stroke:'#a50f15','stroke-width':1.2},'p-line-pcs');
el('polyline',{points:pGenes.map((v,i)=>px(i)+','+py(v)).join(' '),fill:'none',stroke:'#f8696b','stroke-width':1.2},'p-line-genes');
pPCs.forEach((v,i)=>C(px(i),py(v),3,'#a50f15','p-point-pcs'));pGenes.forEach((v,i)=>C(px(i),py(v),3,'#f8696b','p-point-genes'));
T(304,1325,'GTE-align (PCs)',10.5,'middle','p-label-pcs',{fill:'#a50f15'});
T(327,1410,'GTE-align (genes)',10.5,'middle','p-label-genes',{fill:'#f8696b'});
T(192,1370,'Metric score',11,'middle','p-y-title',{transform:'rotate(-90 192 1370)'});
T(299,1493,'True pattern',11,'middle','p-x-title');T(299,1506,'of batch effect size',11,'middle','p-x-title-2');
L(252,1515,345,1515,'p-arrow','#4a5a70',1.5);P('M351,1515 l-6,-3.5 l0,7 z','p-arrow-head',{fill:'#4a5a70'});
const lg3=el('linearGradient',{id:'greyGrad',x1:0,y1:0,x2:1,y2:0},'grey-gradient',gd);
el('stop',{offset:'0','stop-color':'#fff'},'stop',lg3);el('stop',{offset:'1','stop-color':'#111'},'stop',lg3);
R(247,1520,108,18,'none','p-grad-box',{stroke:'#222','stroke-width':0.8});
P('M250,1522 L352,1522 L352,1536 Z','p-grad-triangle',{fill:'url(#greyGrad)'});
T(241,1533,'Low',10.5,'end','p-low');T(360,1533,'High',10.5,'start','p-high');

// ======== Panel q ========
letter(411,1292,'q');
function qy(v){return 1442-v*144;}
L(470,1290,470,1446,'q-y-axis');L(470,1446,652,1446,'q-x-axis');
qTicks.forEach(t=>{L(467,qy(t),470,qy(t),'q-tick');T(464,qy(t)+4,t===0?'0':t.toFixed(2),10.5,'end','q-tick-label');});
const qStep=16.7;
qCats.forEach((c,i)=>{const x=481+i*qStep;R(x,qy(1),13.5,qy(qJurkat[i])-qy(1),'#aef23a','q-bar-293t');R(x,qy(qJurkat[i]),13.5,qy(0)-qy(qJurkat[i]),'#e0a020','q-bar-jurkat');
  T(x+10,1452,c,10,'end','q-x-label',{transform:`rotate(-60 ${x+10} 1452)`});});
T(423,1370,'Proportion',11,'middle','q-y-title',{transform:'rotate(-90 423 1370)'});
T(437,1370,'of metric scores',11,'middle','q-y-title-2',{transform:'rotate(-90 437 1370)'});
T(574,1528,'Cell type',10.5,'middle','q-legend-title');
R(551,1535,12,15,'#aef23a','q-legend-293t');T(571,1547,'293T',10.5,'start','q-legend-293t-text');
R(608,1535,12,15,'#e0a020','q-legend-jurkat');T(628,1547,'Jurkat',10.5,'start','q-legend-jurkat-text');

// ======== Panel r & s ========
function linePanel(name,ax,x0,step,y0,per,ticks,series,ytitle,letterX){
  letter(letterX,1292,name);
  L(ax,1290,ax,1448,name+'-y-axis');L(ax,1448,ax+150,1448,name+'-x-axis');
  ticks.forEach(t=>{L(ax-3,y0-t*per,ax,y0-t*per,name+'-tick');T(ax-6,y0-t*per+4,String(t),10.5,'end',name+'-tick-label');});
  cellCats.forEach((c,i)=>{const x=x0+i*step;L(x,1448,x,1451,name+'-x-tick');T(x+4,1456,c,10.5,'end',name+'-x-label',{transform:`rotate(-45 ${x+4} 1456)`});});
  series.forEach((s,k)=>{const vals=s[0],col=metricColors[s[1]];
    el('polyline',{points:vals.map((v,i)=>(x0+i*step)+','+(y0-v*per)).join(' '),fill:'none',stroke:col,'stroke-width':s[1]>=7?1.6:1.1},name+'-line-'+metricNames[s[1]]);
    vals.forEach((v,i)=>C(x0+i*step,y0-v*per,2.6,col,name+'-point'));});
  T(ax-42,1370,ytitle,11,'middle',name+'-y-title',{transform:`rotate(-90 ${ax-42} 1370)`});
  T(x0+63,1506,'Number of cells',11,'middle',name+'-x-title');
}
linePanel('r',716,733,25.4,1442,4.55,rTicks,[[rKBET,3],[rShan,6],[rLISI,4],[rMix,5],[rASW,2],[rGenes,0],[rPCs,1],[rDef,7],[rKmin,8],[rBmin,9]],'Runtime (min)',668);
linePanel('s',940,956,25.6,1442,3.45,sTicks,[[sKBET,3],[sShan,6],[sLISI,4],[sMix,5],[sASW,2],[sGenes,0],[sPCs,1],[sDef,7],[sKmin,8],[sBmin,9]],'Memory (GB)',890);
T(683,1546,'Metric',10.5,'start','metric-legend-title');
const legPos=[[721,1521],[721,1535],[721,1549],[721,1562],[855,1521],[855,1535],[855,1549],[855,1562],[961,1521],[961,1535]];
metricNames.forEach((m,k)=>{C(legPos[k][0],legPos[k][1],5,metricColors[k],'metric-legend-dot');T(legPos[k][0]+9,legPos[k][1]+4,m,10.5,'start','metric-legend-text');});
</script>
</body></html>
